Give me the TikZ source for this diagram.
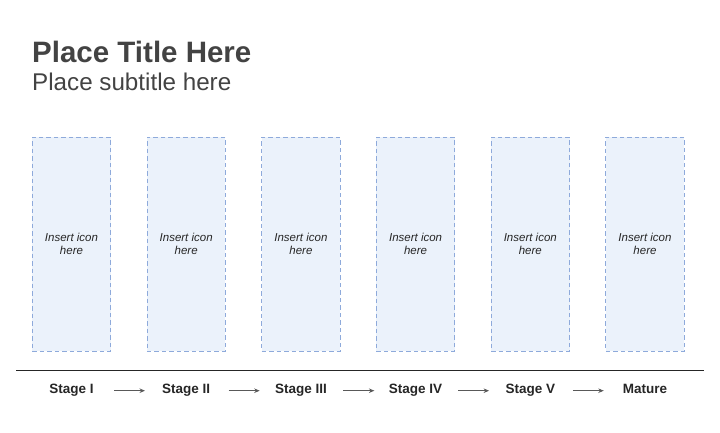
\documentclass[tikz,border=0pt]{standalone}
\usepackage{fontspec}
\setmainfont{Liberation Sans}
\usepackage{xcolor}
\usepackage{tikz}
\usetikzlibrary{arrows.meta}

\definecolor{titlegray}{HTML}{434343}
\definecolor{boxfill}{HTML}{EBF2FB}
\definecolor{boxline}{HTML}{8EAADB}
\definecolor{arrowgray}{HTML}{595959}

\tikzset{
    iconbox/.style={draw=boxline, fill=boxfill, dash pattern=on 4.5pt off 3pt, line width=0.9pt,
        minimum width=78.5pt, minimum height=214pt, inner sep=0pt, align=center,
        font=\fontsize{11.5}{13}\selectfont\itshape, text=black!85},
    stagelabel/.style={anchor=base, font=\fontsize{13.5}{16}\selectfont\bfseries, text=black!85},
    stagearrow/.style={draw=arrowgray, line width=0.9pt, -{Stealth[length=5.5pt,width=4.5pt]}}
}

\begin{document}
\begin{tikzpicture}[x=1pt, y=-1pt]
            \useasboundingbox (0,0) rectangle (720,432);

            % Titolo
            \node[anchor=base west, inner sep=0pt, text=titlegray, font=\fontsize{29.5}{34}\selectfont\bfseries] (title) at (32,62.7) {Place Title Here};
            \node[anchor=base west, inner sep=0pt, text=titlegray, font=\fontsize{24.2}{28}\selectfont] (subtitle) at (32,90.7) {Place subtitle here};

            % Riquadri
            \node[iconbox] (box1) at (71.5,244) {Insert icon\\here};
            \node[iconbox] (box2) at (186.2,244) {Insert icon\\here};
            \node[iconbox] (box3) at (300.9,244) {Insert icon\\here};
            \node[iconbox] (box4) at (415.6,244) {Insert icon\\here};
            \node[iconbox] (box5) at (530.3,244) {Insert icon\\here};
            \node[iconbox] (box6) at (645,244) {Insert icon\\here};

            % Linea
            \coordinate (lineL) at (16,370.3);
            \coordinate (lineR) at (704,370.3);
            \draw[line width=1pt, black!85] (lineL) -- (lineR);

            % Fasi
            \node[stagelabel] (stage1) at (71.5,393.3) {Stage I};
            \node[stagelabel] (stage2) at (186.2,393.3) {Stage II};
            \node[stagelabel] (stage3) at (300.9,393.3) {Stage III};
            \node[stagelabel] (stage4) at (415.6,393.3) {Stage IV};
            \node[stagelabel] (stage5) at (530.3,393.3) {Stage V};
            \node[stagelabel] (stage6) at (645,393.3) {Mature};

            % Frecce
            \coordinate (a1s) at (114,390.7);
            \coordinate (a1e) at (145,390.7);
            \coordinate (a2s) at (228.7,390.7);
            \coordinate (a2e) at (259.7,390.7);
            \coordinate (a3s) at (343.4,390.7);
            \coordinate (a3e) at (374.4,390.7);
            \coordinate (a4s) at (458.1,390.7);
            \coordinate (a4e) at (489.1,390.7);
            \coordinate (a5s) at (572.8,390.7);
            \coordinate (a5e) at (603.8,390.7);
            \draw[stagearrow] (a1s) -- (a1e);
            \draw[stagearrow] (a2s) -- (a2e);
            \draw[stagearrow] (a3s) -- (a3e);
            \draw[stagearrow] (a4s) -- (a4e);
            \draw[stagearrow] (a5s) -- (a5e);
        \end{tikzpicture}
\end{document}
